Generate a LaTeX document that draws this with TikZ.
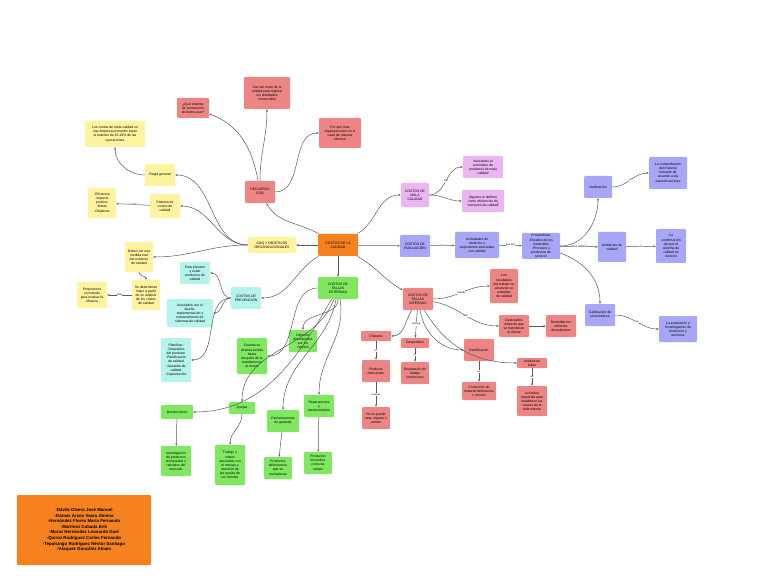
\documentclass[tikz,border=0pt]{standalone}
\usepackage{fontspec}
\setmainfont{Liberation Sans}
\usetikzlibrary{arrows.meta}

\definecolor{cred}{HTML}{EE8585}
\definecolor{cyel}{HTML}{FFF3A0}
\definecolor{ccya}{HTML}{B4F4EC}
\definecolor{cgrn}{HTML}{80E860}
\definecolor{cpnk}{HTML}{EBB4F2}
\definecolor{cblu}{HTML}{A8A6F6}
\definecolor{corg}{HTML}{F5821F}

\tikzset{
  box/.style={rounded corners=1pt, align=center, inner sep=1.5pt, font=\fontsize{3.4}{4.1}\selectfont},
  rbox/.style={box, fill=cred},
  ybox/.style={box, fill=cyel},
  cbox/.style={box, fill=ccya},
  gbox/.style={box, fill=cgrn},
  pbox/.style={box, fill=cpnk},
  bbox/.style={box, fill=cblu},
  conn/.style={-{Stealth[length=2.5pt,width=2pt]}, draw=black!65, line width=0.5pt},
  lbl/.style={font=\fontsize{2.6}{3}\selectfont, fill=white, inner sep=0.3pt}
}

\begin{document}
\begin{tikzpicture}[x=1pt, y=-1pt]
    \useasboundingbox (0,0) rectangle (768,577);

    \node[box, fill=corg, minimum width=40pt, minimum height=22pt] at (338, 245) (main) {COSTOS DE LA\\CALIDAD};

    % recursos
    \node[rbox, minimum width=30pt, minimum height=22pt] at (260, 192) (rec) {RECURSOS\\COQ};
    \node[rbox, minimum width=32pt, minimum height=20pt] at (193, 108) (q1) {¿Qué sistema\\de recolección\\de datos usar?};
    \node[rbox, minimum width=46pt, minimum height=32pt] at (267, 93) (q2) {Uso del costo de la\\calidad para mejorar\\los resultados\\comerciales};
    \node[rbox, minimum width=42pt, minimum height=30pt] at (340, 133) (q3) {Por qué mas\\organizaciones no lo\\usan de manera\\efectiva};

    % objetivos
    \node[ybox, minimum width=48pt, minimum height=16pt] at (272, 245) (obj) {COQ Y OBJETIVOS\\ORGANIZACIONALES};
    \node[ybox, minimum width=30pt, minimum height=22pt] at (160, 175) (regla) {Regla general};
    \node[ybox, minimum width=60pt, minimum height=26pt] at (115, 134) (malos) {Los costos de mala calidad en\\una empresa promedio están\\al rededor de 15-20\% de las\\operaciones};
    \node[ybox, minimum width=30pt, minimum height=24pt] at (165, 206) (sist) {Sistema de\\costos de\\calidad};
    \node[ybox, minimum width=28pt, minimum height=30pt] at (102, 203) (efic) {-Eficiencia\\-Impacto\\positivo\\-Metas\\-Objetivos};
    \node[ybox, minimum width=28pt, minimum height=30pt] at (139, 257) (medida) {Deben ser una\\medida real\\del esfuerzo\\de calidad};
    \node[ybox, minimum width=28pt, minimum height=30pt] at (146, 295) (determ) {Se determinan\\mejor a partir\\de un análisis\\de los costos\\de calidad};
    \node[ybox, minimum width=30pt, minimum height=26pt] at (92, 295) (metodo) {Proporciona\\un método\\para evaluar la\\eficacia};

    % prevencion
    \node[cbox, minimum width=30pt, minimum height=22pt] at (246, 298) (prev) {COSTOS DE\\PREVENCIÓN};
    \node[cbox, minimum width=30pt, minimum height=22pt] at (195, 273) (prev1) {Para prevenir\\y evitar\\productos de\\calidad};
    \node[cbox, minimum width=46pt, minimum height=28pt] at (190, 313) (prev2) {Asociados con el\\diseño,\\implementación y\\mantenimiento de\\sistemas de calidad};
    \node[cbox, minimum width=30pt, minimum height=44pt] at (176, 360) (prev3) {Planificar:\\-Requisitos\\del producto\\-Planificación\\de calidad\\-Garantía de\\calidad\\-Capacitación};

    % fallas externas
    \node[gbox, minimum width=40pt, minimum height=22pt] at (338, 288) (ext) {COSTOS DE\\FALLAS\\EXTERNAS};
    \node[gbox, minimum width=28pt, minimum height=22pt] at (303, 341) (ext1) {Defectos\\descubiertos\\por los\\clientes};
    \node[gbox, minimum width=30pt, minimum height=36pt] at (252, 356) (ext2) {Cuando se\\detecta la falla\\hasta\\después de la\\transferencia\\al cliente};
    \node[gbox, minimum width=32pt, minimum height=14pt] at (177, 412) (dev) {Devoluciones};
    \node[gbox, minimum width=26pt, minimum height=12pt] at (242, 408) (quej) {Quejas};
    \node[gbox, minimum width=32pt, minimum height=22pt] at (283, 421) (gar) {Reclamaciones\\de garantía};
    \node[gbox, minimum width=30pt, minimum height=22pt] at (319, 406) (rep) {Reparaciones\\y\\mantenimiento};
    \node[gbox, minimum width=30pt, minimum height=30pt] at (176, 461) (dev1) {Investigación\\de productos\\rechazados o\\retirados del\\mercado};
    \node[gbox, minimum width=30pt, minimum height=40pt] at (230, 465) (quej1) {Trabajo y\\costos\\asociados con\\el manejo y\\atención de\\las quejas de\\los clientes};
    \node[gbox, minimum width=28pt, minimum height=22pt] at (278, 468) (gar1) {Productos\\defectuosos\\que se\\reemplazan};
    \node[gbox, minimum width=28pt, minimum height=22pt] at (318, 463) (rep1) {Productos\\devueltos\\como de\\campo};

    % mala calidad
    \node[pbox, minimum width=28pt, minimum height=24pt] at (415, 195) (mala) {COSTOS DE\\MALA\\CALIDAD};
    \node[pbox, minimum width=40pt, minimum height=22pt] at (483, 167) (mala1) {Asociados al\\suministro de\\productos de mala\\calidad};
    \node[pbox, minimum width=42pt, minimum height=22pt] at (483, 201) (mala2) {Algunos lo definen\\como eficiencias de\\``consumo de calidad''};

    % evaluacion
    \node[bbox, minimum width=30pt, minimum height=22pt] at (415, 246) (eval) {COSTOS DE\\EVALUACIÓN};
    \node[bbox, minimum width=44pt, minimum height=26pt] at (477, 245) (eval1) {Actividades de\\medición y\\seguimiento asociadas\\con calidad};
    \node[bbox, minimum width=38pt, minimum height=26pt] at (541, 246) (eval2) {Proveedores\\-Estados de los\\materiales\\-Procesos y\\productos de\\servicio};
    \node[bbox, minimum width=28pt, minimum height=22pt] at (598, 187) (verif) {Verificación};
    \node[bbox, minimum width=38pt, minimum height=32pt] at (668, 173) (verif1) {La comprobación\\del material\\entrante de\\acuerdo a las\\especificaciones};
    \node[bbox, minimum width=28pt, minimum height=30pt] at (612, 247) (aud) {Auditorías de\\calidad};
    \node[bbox, minimum width=30pt, minimum height=34pt] at (671, 246) (aud1) {La\\confirmación\\de que el\\sistema de\\calidad es\\correcto};
    \node[bbox, minimum width=30pt, minimum height=22pt] at (600, 315) (calif) {Calificación de\\proveedores};
    \node[bbox, minimum width=38pt, minimum height=26pt] at (678, 329) (calif1) {La evaluación y\\homologación de\\productos y\\servicios};

    % fallas internas
    \node[rbox, minimum width=30pt, minimum height=22pt] at (418, 299) (int) {COSTOS DE\\FALLAS\\INTERNAS};
    \node[rbox, minimum width=28pt, minimum height=34pt] at (504, 286) (int1) {Los\\resultados\\del trabajo no\\alcanzan su\\estándar\\de calidad};
    \node[rbox, minimum width=30pt, minimum height=22pt] at (514, 326) (int2) {Detectados\\antes de que\\se transfieran\\al cliente};
    \node[rbox, minimum width=30pt, minimum height=22pt] at (561, 326) (int3) {Remediar los\\defectos\\descubiertos};
    \node[rbox, minimum width=30pt, minimum height=10pt] at (376, 336) (chat) {Chatarra};
    \node[rbox, minimum width=28pt, minimum height=10pt] at (415, 343) (desp) {Desperdicio};
    \node[rbox, minimum width=30pt, minimum height=22pt] at (479, 350) (rect) {Rectificación};
    \node[rbox, minimum width=30pt, minimum height=10pt] at (532, 363) (anal) {Análisis de\\fallas};
    \node[rbox, minimum width=28pt, minimum height=22pt] at (376, 371) (chat1) {Producto\\defectuoso};
    \node[rbox, minimum width=28pt, minimum height=22pt] at (415, 373) (desp1) {Realización de\\trabajo\\innecesario};
    \node[rbox, minimum width=34pt, minimum height=18pt] at (479, 391) (rect1) {Corrección de\\material defectuoso\\o errores};
    \node[rbox, minimum width=30pt, minimum height=30pt] at (532, 401) (anal1) {Actividad\\requerida para\\establecer las\\causas de la\\falla interna};
    \node[rbox, minimum width=28pt, minimum height=22pt] at (376, 418) (chat2) {No se puede\\usar, reparar o\\vender};

    % autores
    \node[box, fill=corg, minimum width=134pt, minimum height=70pt, font=\fontsize{4.4}{5.6}\selectfont\bfseries] at (84, 530) (aut) {-Dávila Olvera José Manuel\\-Gómez Arcos Vania Jimena\\-Hernández Flores María Fernanda\\-Martínez Cobada Erik\\-Muraz Hernández Leonardo Gael\\-Quiroz Rodríguez Carlos Fernando\\-Tepalcingo Rodríguez Néstor Santiago\\-Vázquez González Abiam};

    % conexiones
    \draw[conn] (main) to[out=150, in=-60] (rec);
    \draw[conn] (rec) to[out=100, in=-20] (q1);
    \draw[conn] (rec) to[out=90, in=-90] (q2);
    \draw[conn] (rec) to[out=0, in=180] (q3);
    \draw[conn] (main) -- (obj);
    \draw[conn] (obj) to[out=180, in=0] (regla);
    \draw[conn] (regla) to[out=180, in=-90] (malos);
    \draw[conn] (obj) to[out=180, in=0] (sist);
    \draw[conn] (sist) -- node[lbl]{a través} (efic);
    \draw[conn] (obj) to[out=180, in=0] (medida);
    \draw[conn] (medida) to[out=-90, in=90] (determ);
    \draw[conn] (determ) -- node[lbl]{para} (metodo);
    \draw[conn] (main) to[out=-150, in=0] (prev);
    \draw[conn] (prev) to[out=180, in=0] (prev1);
    \draw[conn] (prev) to[out=180, in=0] (prev2);
    \draw[conn] (prev) to[out=180, in=0] (prev3);
    \draw[conn] (main) -- (ext);
    \draw[conn] (ext) to[out=-90, in=90] (ext1);
    \draw[conn] (ext) to[out=180, in=0] (ext2);
    \draw[conn] (ext) to[out=-120, in=0] (dev);
    \draw[conn] (ext) to[out=-110, in=90] (quej);
    \draw[conn] (ext) to[out=-100, in=90] (gar);
    \draw[conn] (ext) to[out=-80, in=90] (rep);
    \draw[conn] (dev) -- (dev1);
    \draw[conn] (quej) to[out=-90, in=90] (quej1);
    \draw[conn] (gar) -- (gar1);
    \draw[conn] (rep) -- (rep1);
    \draw[conn] (main) to[out=30, in=180] (mala);
    \draw[conn] (mala) to[out=0, in=180] node[lbl]{son} (mala1);
    \draw[conn] (mala) to[out=0, in=180] (mala2);
    \draw[conn] (main) -- (eval);
    \draw[conn] (eval) -- node[lbl]{son} (eval1);
    \draw[conn] (eval1) -- node[lbl]{que son} (eval2);
    \draw[conn] (eval2) to[out=0, in=-90] (verif);
    \draw[conn] (eval2) -- node[lbl]{como también} (aud);
    \draw[conn] (eval2) to[out=-20, in=90] (calif);
    \draw[conn] (verif) to[out=0, in=180] node[lbl]{es} (verif1);
    \draw[conn] (aud) -- node[lbl]{es} (aud1);
    \draw[conn] (calif) to[out=0, in=180] node[lbl]{es} (calif1);
    \draw[conn] (main) to[out=-30, in=150] (int);
    \draw[conn] (int) to[out=0, in=180] node[lbl]{cuando} (int1);
    \draw[conn] (int) to[out=-10, in=180] node[lbl]{son} (int2);
    \draw[conn] (int2) -- (int3);
    \draw[conn] (int) to[out=-120, in=0] (chat);
    \draw[conn] (int) -- node[lbl]{incluye} (desp);
    \draw[conn] (int) to[out=-80, in=180] (rect);
    \draw[conn] (int) to[out=-60, in=180] (anal);
    \draw[conn] (chat) -- node[lbl]{es} (chat1);
    \draw[conn] (chat1) -- node[lbl]{a veces} (chat2);
    \draw[conn] (desp) -- node[lbl]{es} (desp1);
    \draw[conn] (rect) -- node[lbl]{es} (rect1);
    \draw[conn] (anal) -- node[lbl]{es} (anal1);
\end{tikzpicture}
\end{document}
